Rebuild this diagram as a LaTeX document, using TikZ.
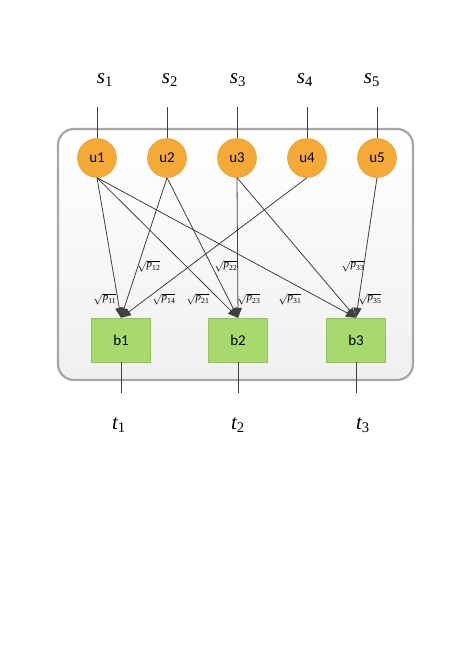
\documentclass[tikz,border=0pt]{standalone}
\usepackage{amsmath}
\usepackage{fontspec}
\setmainfont{Liberation Serif}
\newfontfamily\calibri{Carlito}
\usetikzlibrary{arrows.meta}

\definecolor{uorange}{HTML}{F5AA35}
\definecolor{uborder}{HTML}{D8962E}
\definecolor{bgreen}{HTML}{A7D96C}
\definecolor{bborder}{HTML}{92C35A}
\definecolor{framegray}{HTML}{A6A6A6}
\definecolor{edgegray}{HTML}{404040}

\newcommand{\tvar}[2]{$\textit{#1}_{\textrm{#2}}$}
\newcommand{\wt}[1]{$\sqrt{\textit{p}_{\textrm{#1}}}$}

\begin{document}
\begin{tikzpicture}[x=1pt,y=-1pt,
  unode/.style={circle,draw=uborder,fill=uorange,minimum size=39pt,inner sep=0pt,
    font=\calibri\fontsize{15}{18}\selectfont},
  bnode/.style={rectangle,draw=bborder,fill=bgreen,minimum width=59pt,minimum height=44pt,
    inner sep=0pt,font=\calibri\fontsize{15}{18}\selectfont},
  wire/.style={draw=edgegray,line width=0.8pt},
  edge/.style={wire,-{Triangle[length=10pt,width=8pt]}},
  lbl/.style={inner sep=0pt,font=\fontsize{11}{13}\selectfont},
  var/.style={inner sep=0pt,font=\fontsize{21}{25}\selectfont}]

\useasboundingbox (0,0) rectangle (473,667);

% frame
\draw[framegray,line width=2.2pt,rounded corners=16pt,top color=white,bottom color=black!6]
   (58,129) rectangle (413,380);

% sources and users
\foreach \i/\x/\sx in {1/97/105,2/167/170,3/237/238,4/307/305,5/377/372} {
  \node[var] (s\i) at (\sx,80) {\tvar{s}{\i}};
  \node[unode] (u\i) at (\x,158) {u\i};
  \coordinate (in\i) at (\x,107);
  \draw[wire] (in\i) -- (u\i);
}

% bins and outputs
\foreach \j/\x/\tx in {1/121/119,2/238/238,3/356/363} {
  \node[bnode] (b\j) at (\x,340) {b\j};
  \node[var] (t\j) at (\tx,425) {\tvar{t}{\j}};
  \coordinate (out\j) at (\x,393);
  \draw[wire] (b\j) -- (out\j);
}

% links
\draw[edge] (u1.south) -- (b1.north);
\draw[edge] (u2.south) -- (b1.north);
\draw[edge] (u4.south) -- (b1.north);
\draw[edge] (u1.south) -- (b2.north);
\draw[edge] (u2.south) -- (b2.north);
\draw[edge] (u3.south) -- (b2.north);
\draw[edge] (u1.south) -- (b3.north);
\draw[edge] (u3.south) -- (b3.north);
\draw[edge] (u5.south) -- (b3.north);

% link weights
\node[lbl] (p11) at (105,299) {\wt{11}};
\node[lbl] (p12) at (149,266) {\wt{12}};
\node[lbl] (p14) at (164,299) {\wt{14}};
\node[lbl] (p21) at (198,299) {\wt{21}};
\node[lbl] (p22) at (226,266) {\wt{22}};
\node[lbl] (p23) at (249,299) {\wt{23}};
\node[lbl] (p31) at (290,299) {\wt{31}};
\node[lbl] (p33) at (353,266) {\wt{33}};
\node[lbl] (p35) at (370,299) {\wt{35}};

\end{tikzpicture}
\end{document}
